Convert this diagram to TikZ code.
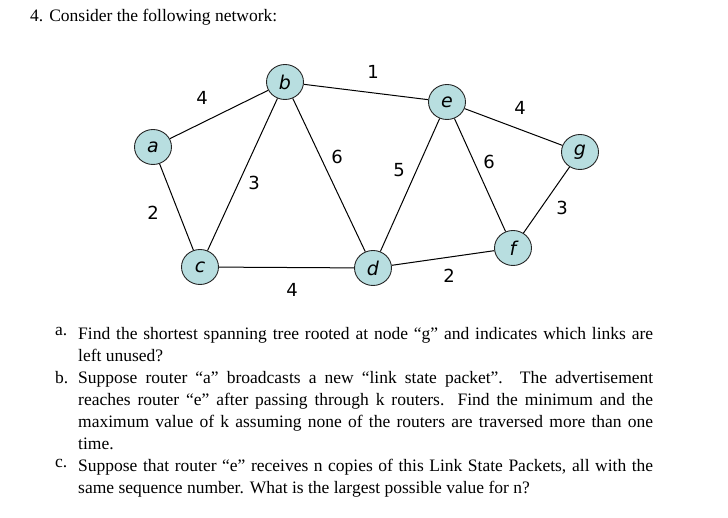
\documentclass[tikz,border=0pt]{standalone}
\usepackage{fontspec}
\setmainfont{Liberation Serif}
\newfontfamily\lab{DejaVu Sans}
\usetikzlibrary{shapes.geometric}
\definecolor{nfill}{RGB}{184,222,224}
\begin{document}
\begin{tikzpicture}[x=1pt,y=-1pt,
  nd/.style={ellipse,draw=black!85,fill=nfill,line width=0.9pt,minimum width=37pt,minimum height=35pt,inner sep=0pt,font=\lab\itshape\fontsize{19}{19}\selectfont},
  ed/.style={line width=1pt},
  el/.style={font=\lab\fontsize{18}{18}\selectfont},
  tx/.style={anchor=north west,inner sep=0pt,font=\fontsize{17.5}{22}\selectfont}]
\useasboundingbox (0,0) rectangle (728,518);
\fill[white] (0,0) rectangle (728,518);
\node[tx] (t) at (30,9) {4.\hspace{6pt}Consider the following network:};
\node[nd] (a) at (153,147) {a};
\node[nd] (b) at (285,82) {b};
\node[nd] (e) at (447,102) {e};
\node[nd] (g) at (580,152) {g};
\node[nd] (c) at (200,267) {c};
\node[nd] (d) at (373,268) {d};
\node[nd] (f) at (513,248) {f};
\draw[ed] (a)--(b); \draw[ed] (b)--(e); \draw[ed] (e)--(g);
\draw[ed] (a)--(c); \draw[ed] (b)--(c); \draw[ed] (b)--(d);
\draw[ed] (e)--(d); \draw[ed] (e)--(f); \draw[ed] (g)--(f);
\draw[ed] (c)--(d); \draw[ed] (d)--(f);
\node[el] (l1) at (202,98) {4};
\node[el] (l2) at (373,72) {1};
\node[el] (l3) at (520,108) {4};
\node[el] (l4) at (153,213) {2};
\node[el] (l5) at (254,183) {3};
\node[el] (l6) at (337,157) {6};
\node[el] (l7) at (399,170) {5};
\node[el] (l8) at (489,162) {6};
\node[el] (l9) at (562,208) {3};
\node[el] (l10) at (292,290) {4};
\node[el] (l11) at (449,276) {2};
\node[tx] (qa) at (55,327) {a.};
\node[tx,text width=575pt,align=justify] (ta) at (78,327) {Find the shortest spanning tree rooted at node “g” and indicates which links are\linebreak left unused?};
\node[tx] (qb) at (55,371) {b.};
\node[tx,text width=575pt,align=justify] (tb) at (78,371) {Suppose router “a” broadcasts a new “link state packet”. The advertisement\linebreak reaches router “e” after passing through k routers. Find the minimum and the\linebreak maximum value of k assuming none of the routers are traversed more than one\linebreak time.};
\node[tx] (qc) at (55,459) {c.};
\node[tx,text width=575pt,align=justify] (tc) at (78,459) {Suppose that router “e” receives n copies of this Link State Packets, all with the\linebreak same sequence number. What is the largest possible value for n?};
\end{tikzpicture}
\end{document}
